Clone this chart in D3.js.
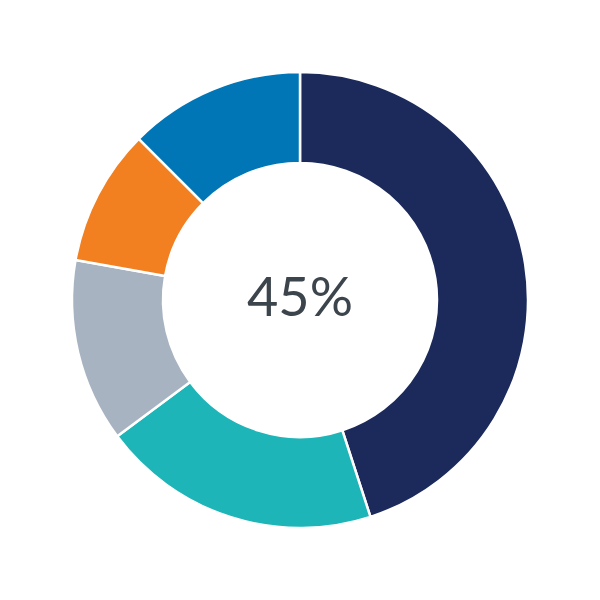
<!DOCTYPE html>
<html><head><meta charset="utf-8">
<script src="https://cdn.jsdelivr.net/npm/d3@7"></script>
<style>html,body{margin:0;padding:0;background:#fff}</style>
</head><body>
<svg id="c" width="600" height="600"></svg>
<script>
const categories = ["A", "B", "C", "D", "E"];
const values = [45, 19.8, 13, 9.7, 12.5];
const colors = ["#1b2a5b", "#1db5b7", "#a8b3c2", "#f27f20", "#0076b7"];
const centerLabel = "45%";

const svg = d3.select("#c");
const g = svg.append("g").attr("transform", "translate(300,300)");
const pie = d3.pie().sort(null).value(d => d.v);
const arc = d3.arc().innerRadius(137).outerRadius(228);
const data = categories.map((c, i) => ({c, v: values[i]}));
g.selectAll("path").data(pie(data)).join("path")
  .attr("d", arc)
  .attr("fill", (d, i) => colors[i])
  .attr("stroke", "#fff")
  .attr("stroke-width", 2.5);
g.append("text").attr("x", 0).attr("y", 16)
  .attr("text-anchor", "middle")
  .attr("font-family", "Lato, sans-serif")
  .attr("font-size", 54)
  .attr("fill", "#3c444c")
  .text(centerLabel);
</script>
</body></html>
